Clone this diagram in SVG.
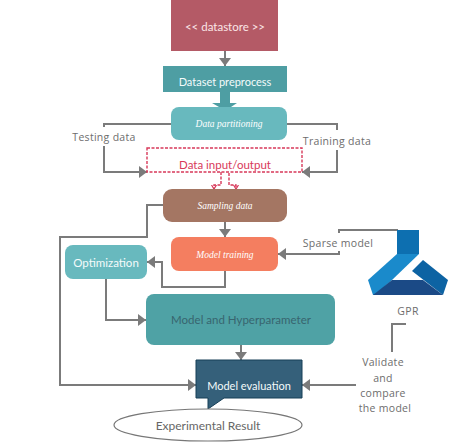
<svg xmlns="http://www.w3.org/2000/svg" width="474" height="443" viewBox="0 0 474 443">
<style>
.c{fill:none;stroke:#7b7b7b;stroke-width:2}
.d{fill:none;stroke:#d8395a;stroke-width:1.4;stroke-dasharray:3 1.5}
text{font-family:"Lato","Liberation Sans",sans-serif;text-anchor:middle}
.w{fill:#f4fbfb}
.g{fill:#6d6d6d;font-size:10.5px;letter-spacing:.3px;font-family:"Open Sans","Liberation Sans",sans-serif}
.i{font-family:"Liberation Serif",serif;font-style:italic;font-size:9.5px;fill:#fff}
</style>
<defs>
<marker id="a" markerUnits="userSpaceOnUse" markerWidth="9" markerHeight="12" refX="8" refY="6" orient="auto"><path d="M0 0L8 6L0 12Z" fill="#7b7b7b"/></marker>
<marker id="r" markerUnits="userSpaceOnUse" markerWidth="6" markerHeight="6" refX="4" refY="3" orient="auto"><path d="M0 0.5L4 3L0 5.500" fill="none" stroke="#d8395a" stroke-width="1.200"/></marker>
</defs>
<rect width="474" height="443" fill="#fff"/>
<g id="connectors">
<path class="c" d="M225 51V66" marker-end="url(#a)"/>
<path d="M220 92H230V103H237L231 107H219L212 103H220Z" fill="#4e9ea3"/>
<path class="c" d="M171 124H104V127"/>
<path class="c" d="M104 146V172H147" marker-end="url(#a)"/>
<path class="c" d="M287 124H337V130"/>
<path class="c" d="M337 150V172H302" marker-end="url(#a)"/>
<path class="d" d="M221 172V185H214V189" marker-end="url(#r)"/>
<path class="d" d="M229 173V185H236V189" marker-end="url(#r)"/>
<path class="c" d="M163 205H147V237H60V385H196" marker-end="url(#a)"/>
<path class="c" d="M225 222V237" marker-end="url(#a)"/>
<path class="c" d="M398 230H339V233"/>
<path class="c" d="M339 251V254H278" marker-end="url(#a)"/>
<path class="c" d="M225 271V287H162V262H147" marker-end="url(#a)"/>
<path class="c" d="M106 279V320H146" marker-end="url(#a)"/>
<path class="c" d="M241 345V360" marker-end="url(#a)"/>
<path class="c" d="M356 385H302" marker-end="url(#a)"/>
<path class="c" d="M406 324H392V352"/>
</g>
<g id="datastore"><rect x="171" y="0" width="107" height="51" fill="#b45a66"/><text x="225" y="31" font-size="11.500" fill="#fbe6e6">&lt;&lt; datastore &gt;&gt;</text></g>
<g id="preprocess"><rect x="163" y="66" width="124" height="26" fill="#4e9ea3"/><text x="225" y="86" font-size="11" class="w">Dataset preprocess</text></g>
<g id="partitioning"><rect x="171" y="107" width="116" height="33" rx="8" fill="#68b9be"/><text x="229" y="127" class="i">Data partitioning</text></g>
<g id="testing"><text x="104" y="141" class="g">Testing data</text></g>
<g id="training"><text x="337" y="145" class="g">Training data</text></g>
<g id="io"><rect x="147" y="148" width="155" height="24" fill="none" stroke="#d8395a" stroke-width="1.400" stroke-dasharray="3 1.500"/><text x="225" y="169" font-size="11.500" fill="#d8395a">Data input/output</text></g>
<g id="sampling"><rect x="163" y="189" width="124" height="33" rx="9" fill="#a47663"/><text x="225" y="209" class="i">Sampling data</text></g>
<g id="training-node"><rect x="171" y="237" width="107" height="34" rx="8" fill="#f47e60"/><text x="225" y="258" class="i">Model  training</text></g>
<g id="optimization"><rect x="65" y="245" width="82" height="34" rx="8" fill="#68b9be"/><text x="106" y="267" font-size="11.500" class="w">Optimization</text></g>
<g id="hyper"><rect x="146" y="294" width="189" height="51" rx="8" fill="#4fa2a5"/><text x="241" y="324" font-size="11.500" fill="#38656f">Model and Hyperparameter</text></g>
<g id="evaluation"><path d="M196 360H302V398H224L208 409V398H196Z" fill="#35607a" stroke="#173f57" stroke-width="1"/><text x="249" y="390" font-size="11" class="w">Model evaluation</text></g>
<g id="result"><ellipse cx="208" cy="425" rx="94" ry="16" fill="#fff" stroke="#777" stroke-width="1.200"/><text x="208" y="430" font-size="12" fill="#666">Experimental Result</text></g>
<g id="sparse"><text x="338" y="247" class="g">Sparse model</text></g>
<g id="gpr">
<path d="M397 230H419V254H397Z" fill="#0d6fb0"/>
<path d="M397 254H419L392 280L375 295H373L368 280Z" fill="#1a8acb"/>
<path d="M412 271L423 260L448 280L443 295Z" fill="#0d63a3"/>
<path d="M373 295L392 280H423L443 295Z" fill="#1b4a86"/>
<text x="408" y="315" class="g">GPR</text>
</g>
<g id="validate"><text x="383" y="366" class="g">Validate</text><text x="383" y="382" class="g">and</text><text x="383" y="397" class="g">compare</text><text x="385" y="412" class="g">the model</text></g>
</svg>
